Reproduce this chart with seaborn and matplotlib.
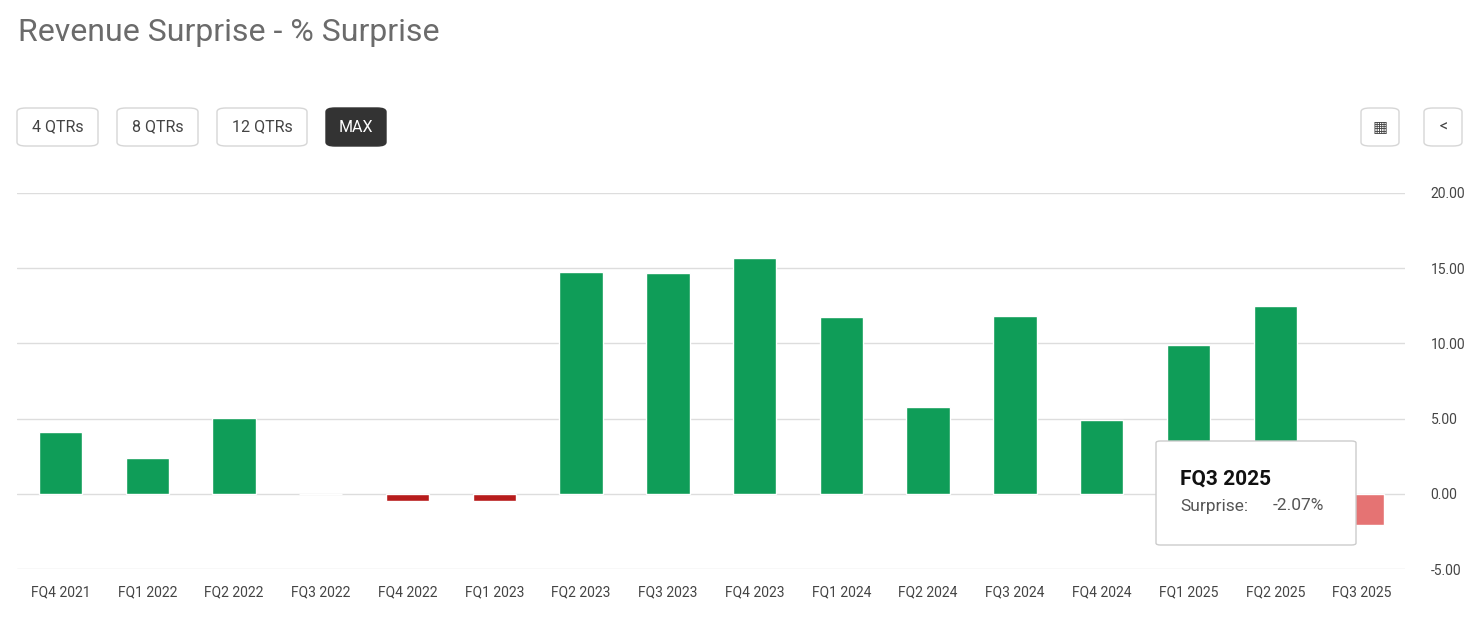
import matplotlib
matplotlib.use("Agg")
import matplotlib.pyplot as plt
import seaborn as sns
import pandas as pd
from matplotlib.patches import FancyBboxPatch

quarters = ["FQ4 2021","FQ1 2022","FQ2 2022","FQ3 2022","FQ4 2022","FQ1 2023","FQ2 2023","FQ3 2023",
            "FQ4 2023","FQ1 2024","FQ2 2024","FQ3 2024","FQ4 2024","FQ1 2025","FQ2 2025","FQ3 2025"]
surprise = [4.13, 2.40, 5.07, 0.0, -0.50, -0.50, 14.73, 14.67, 15.67, 11.73, 5.80, 11.80, 4.93, 9.87, 12.47, -2.07]
yticks = [-5, 0, 5, 10, 15, 20]

sns.set_theme(style="white")
plt.rcParams['font.family'] = ['Roboto', 'DejaVu Sans']

colors = []
for i, v in enumerate(surprise):
    if i == len(surprise) - 1:
        colors.append("#e57373")
    elif v >= 0:
        colors.append("#0f9d58")
    else:
        colors.append("#b71c1c")

df = pd.DataFrame({"q": quarters, "v": surprise})
fig = plt.figure(figsize=(14.81, 6.34), dpi=100)
ax = fig.add_axes([0.0115, 0.1025, 0.9375, 0.5931])
sns.barplot(data=df, x="q", y="v", hue="q", palette=colors, legend=False, width=0.5, ax=ax, saturation=1)
ax.set_xlim(-0.5, 15.5)
ax.set_ylim(-5, 20)
ax.set_yticks(yticks)
ax.set_yticklabels([f"{t:.2f}" for t in yticks], color="#444444", fontsize=10)
ax.yaxis.tick_right()
ax.tick_params(axis="y", length=0, pad=18)
ax.tick_params(axis="x", length=0, pad=12, labelsize=10, labelcolor="#444444")
ax.set_xlabel(""); ax.set_ylabel("")
for t in yticks:
    ax.axhline(t, color="#dddddd", lw=1, zorder=0)
for s in ax.spines.values():
    s.set_visible(False)

fig.text(0.012, 0.948, "Revenue Surprise - % Surprise", fontsize=23, color="#6b6b6b", va="center")

def button(x0, w, label, dark=False):
    y0 = 1 - 146/634; h = 38/634
    p = FancyBboxPatch((x0/1481, y0), w/1481, h, boxstyle="round,pad=0,rounding_size=0.006",
                       transform=fig.transFigure, facecolor="#333333" if dark else "white",
                       edgecolor="#333333" if dark else "#d6d6d6", lw=1)
    fig.patches.append(p)
    fig.text((x0 + w/2)/1481, y0 + h/2, label, ha="center", va="center", fontsize=11.5,
             color="white" if dark else "#444444")

button(17, 81, "4 QTRs")
button(117, 81, "8 QTRs")
button(217, 90, "12 QTRs")
button(326, 60, "MAX", dark=True)
button(1361, 38, "▦")
button(1424, 38, "<")

# tooltip
tx0, ty0, tw, th = 1156/1481, 1 - 545/634, 200/1481, 104/634
fig.patches.append(FancyBboxPatch((tx0, ty0), tw, th, boxstyle="round,pad=0,rounding_size=0.003",
                                  transform=fig.transFigure, facecolor="white", edgecolor="#cccccc", lw=1, zorder=10))
fig.text(1180/1481, 1 - 479/634, "FQ3 2025", fontsize=15, fontweight="bold", color="#111111", va="center", zorder=11)
fig.text(1180/1481, 1 - 506/634, "Surprise:", fontsize=12.5, color="#555555", va="center", zorder=11)
fig.text(1273/1481, 1 - 506/634, f"{surprise[-1]:.2f}%", fontsize=12.5, color="#555555", va="center", zorder=11)

fig.savefig("out.png", dpi=100, facecolor="white")
